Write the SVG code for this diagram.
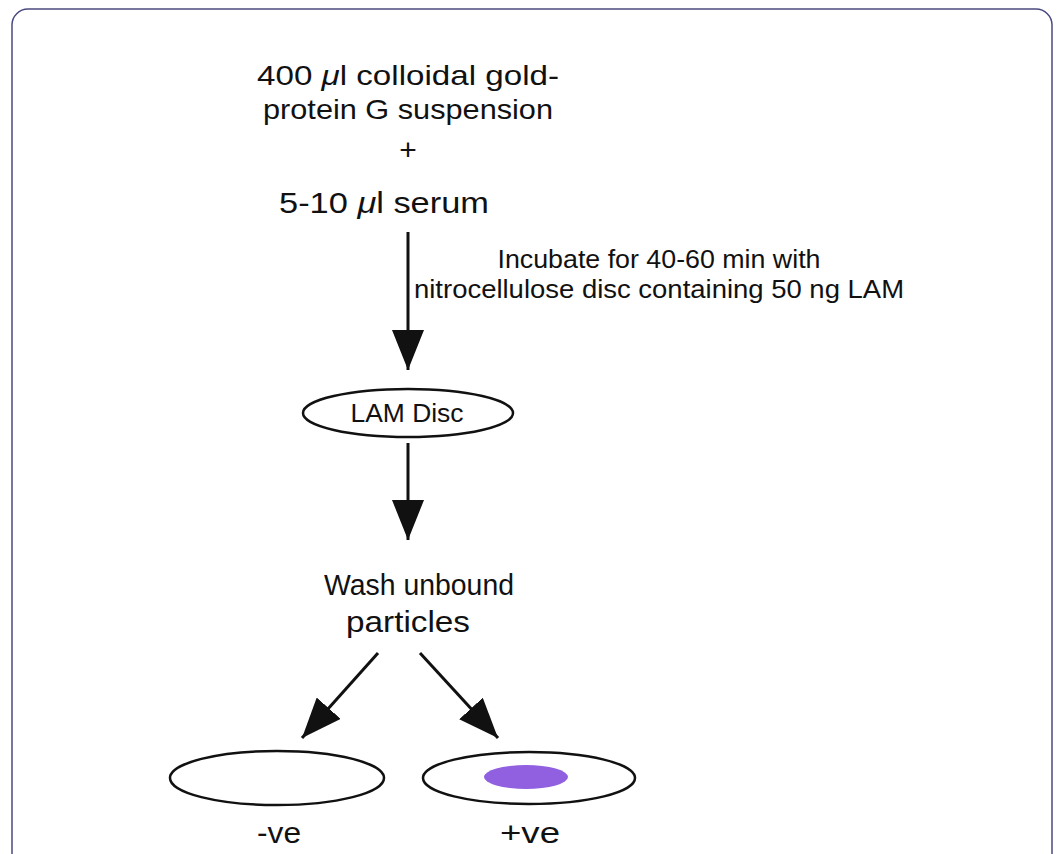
<svg xmlns="http://www.w3.org/2000/svg" width="1064" height="854" viewBox="0 0 1064 854">
<style>
text{font-family:"Liberation Sans",Arial,sans-serif;fill:#111;text-anchor:middle}
.big{font-size:30px}
.top{font-size:28px}
.mid{font-size:25px}
.line{stroke:#111;stroke-width:3;fill:none}
.ell{stroke:#111;stroke-width:2.5;fill:#fff}
</style>
<defs>
<marker id="big" viewBox="0 0 40 32" refX="40" refY="16" markerWidth="40" markerHeight="32" orient="auto" markerUnits="userSpaceOnUse">
<path d="M0,0 L40,16 L0,32 Z" fill="#111"/>
</marker>
</defs>
<rect width="1064" height="854" fill="#fff"/>
<rect x="12" y="9" width="1040" height="870" rx="16" fill="none" stroke="#4a4a80" stroke-width="1.5"/>
<g id="start">
<text class="top" x="408" y="85" textLength="302" lengthAdjust="spacingAndGlyphs">400 <tspan font-style="italic">μ</tspan>l colloidal gold-</text>
<text class="top" x="408" y="119" textLength="290" lengthAdjust="spacingAndGlyphs">protein G suspension</text>
<text class="big" x="408" y="160">+</text>
<text class="big" x="384" y="213" textLength="210" lengthAdjust="spacingAndGlyphs">5-10 <tspan font-style="italic">μ</tspan>l serum</text>
</g>
<g id="incubate-label">
<text class="mid" x="659" y="268" textLength="323" lengthAdjust="spacingAndGlyphs">Incubate for 40-60 min with</text>
<text class="mid" x="659" y="298" textLength="490" lengthAdjust="spacingAndGlyphs">nitrocellulose disc containing 50 ng LAM</text>
</g>
<g id="lam-disc">
<ellipse class="ell" cx="408" cy="413" rx="105" ry="24"/>
<text class="mid" x="407" y="422" textLength="113" lengthAdjust="spacingAndGlyphs">LAM Disc</text>
</g>
<g id="wash">
<text class="big" x="419" y="595" textLength="190" lengthAdjust="spacingAndGlyphs">Wash unbound</text>
<text class="big" x="408" y="632" textLength="124" lengthAdjust="spacingAndGlyphs">particles</text>
</g>
<g id="negative">
<ellipse class="ell" cx="277" cy="778" rx="107" ry="27"/>
<text class="big" x="279" y="843" textLength="44" lengthAdjust="spacingAndGlyphs">-ve</text>
</g>
<g id="positive">
<ellipse class="ell" cx="529" cy="778" rx="106" ry="26"/>
<ellipse cx="526" cy="777" rx="42" ry="12" fill="#9060e0"/>
<text class="big" x="530" y="843" textLength="60" lengthAdjust="spacingAndGlyphs">+ve</text>
</g>
<g id="connectors">
<line class="line" x1="408" y1="232" x2="408" y2="370" marker-end="url(#big)"/>
<line class="line" x1="408" y1="443" x2="408" y2="540" marker-end="url(#big)"/>
<line class="line" x1="378" y1="653" x2="302" y2="738" marker-end="url(#big)"/>
<line class="line" x1="420" y1="653" x2="498" y2="738" marker-end="url(#big)"/>
</g>
</svg>
